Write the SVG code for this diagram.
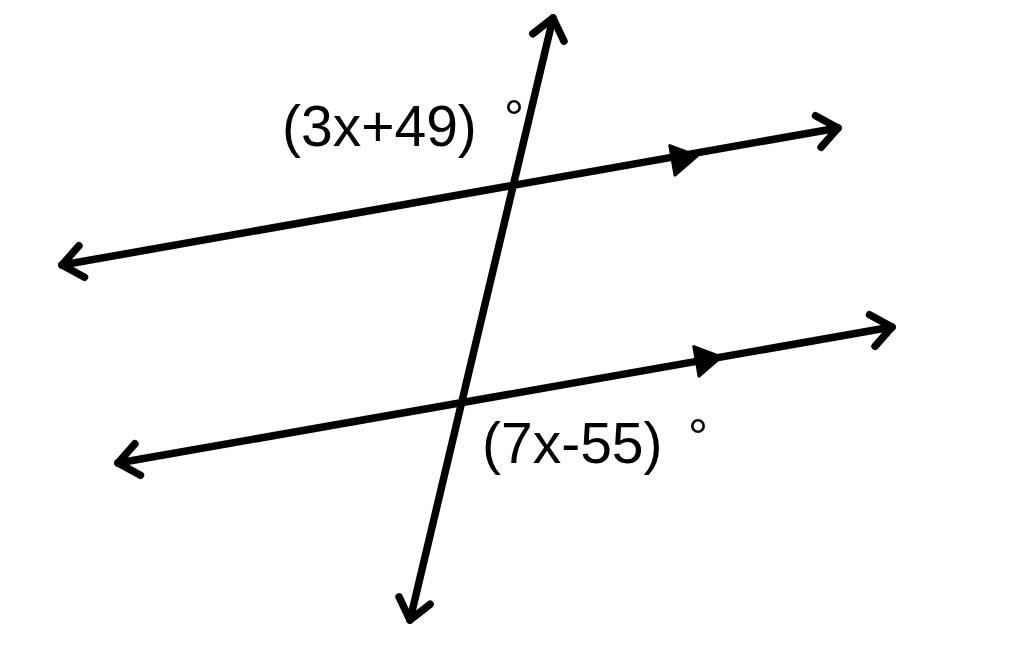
<svg xmlns="http://www.w3.org/2000/svg" width="1030" height="650" viewBox="0 0 1030 650">
<style>
.ln{fill:none;stroke:#000;stroke-width:7.5;stroke-linecap:round;marker-start:url(#chev);marker-end:url(#chev)}
.tri{fill:#000;stroke:#000;stroke-width:3;stroke-linejoin:round}
.lbl{font-family:"Liberation Sans",Arial,sans-serif;font-size:57px;fill:#000}
.deg{font-family:"Liberation Sans",Arial,sans-serif;font-size:50px;fill:#000}
</style>
<defs>
<marker id="chev" markerUnits="userSpaceOnUse" orient="auto-start-reverse" refX="0" refY="0" markerWidth="60" markerHeight="60" viewBox="-30 -30 60 60" overflow="visible">
<path d="M-20,-16 L0,0 L-20,16" fill="none" stroke="#000" stroke-width="7.5" stroke-linecap="round" stroke-linejoin="round"/>
</marker>
</defs>
<rect width="1030" height="650" fill="#fff"/>
<g id="connectors">
<path id="line-top" class="ln" d="M62,265 L838,128"/>
<path id="line-bottom" class="ln" d="M118,463 L892,327"/>
<path id="transversal" class="ln" d="M410,620 L553,18"/>
<polygon class="tri" points="0,0 -25,-15 -25,15" transform="translate(697,156) rotate(-10)"/>
<polygon class="tri" points="0,0 -25,-15 -25,15" transform="translate(721,357) rotate(-10)"/>
</g>
<g id="label-top">
<text class="lbl" x="282" y="146">(3x+49)</text>
<text class="deg" x="514" y="135" text-anchor="middle">°</text>
</g>
<g id="label-bottom">
<text class="lbl" x="482" y="463">(7x-55)</text>
<text class="deg" x="698" y="454" text-anchor="middle">°</text>
</g>
</svg>
